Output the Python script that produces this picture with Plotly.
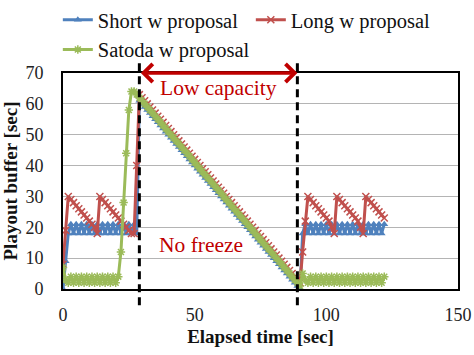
import plotly.graph_objects as go

# ---------------- data ----------------
time_sec = list(range(0, 123))

short_w = [0, 9, 18,
           21, 18, 21, 18, 21, 18, 21, 18, 21, 18, 21, 18, 21, 18, 21, 18, 21, 18, 21, 18, 21, 18, 21, 18, 21,
           18,
           61, 60, 59, 58, 57, 56, 55, 54, 53, 52, 51, 50, 49, 48, 47, 46, 45, 44, 43, 42, 41, 40,
           39, 38, 37, 36, 35, 34, 33, 32, 31, 30, 29, 28, 27, 26, 25, 24, 23, 22, 21, 20,
           19, 18, 17, 16, 15, 14, 13, 12, 11, 10, 9, 8, 7, 6, 5, 4, 3, 2, 1, 0,
           18,
           21, 18, 21, 18, 21, 18, 21, 18, 21, 18, 21, 18, 21, 18, 21, 18, 21, 18, 21, 18, 21, 18,
           21, 18, 21, 18, 21, 18, 21, 18, 21]

long_w = [8, 19, 30,
          29, 28, 27, 26, 25, 24, 23, 22, 21, 20, 18,
          30,
          29, 28, 27, 26, 25, 24, 23, 22, 21, 20, 19, 18,
          18, 40,
          63, 62, 61, 60, 59, 58, 57, 56, 55, 54, 53, 52, 51, 50, 49, 48, 47, 46, 45, 44, 43, 42,
          41, 40, 39, 38, 37, 36, 35, 34, 33, 32, 31, 30, 29, 28, 27, 26, 25, 24, 23, 22,
          21, 20, 19, 18, 17, 16, 15, 14, 13, 12, 11, 10, 9, 8, 7, 6, 5, 4, 3, 2,
          12, 22, 30,
          29, 28, 27, 26, 25, 24, 23, 22, 20, 18,
          30,
          29, 28, 27, 26, 25, 24, 23, 22, 20, 18,
          30,
          29, 28, 27, 26, 25, 24, 23]

satoda_w = [7, 3,
            2, 4, 2, 4, 2, 4, 2, 4, 2, 4, 2, 4, 2, 4, 2, 4, 2, 4, 2, 4,
            12, 28, 44, 58, 64, 64, 63,
            62, 61, 60, 59, 58, 57, 56, 55, 54, 53, 52, 51, 50, 49, 48, 47, 46, 45, 44, 43, 42,
            41, 40, 39, 38, 37, 36, 35, 34, 33, 32, 31, 30, 29, 28, 27, 26, 25, 24, 23, 22,
            21, 20, 19, 18, 17, 16, 15, 14, 13, 12, 11, 10, 9, 8, 7, 6, 5, 4, 3, 2,
            1, 5, 3,
            2, 4, 2, 4, 2, 4, 2, 4, 2, 4, 2, 4, 2, 4, 2, 4, 2, 4, 2, 4, 2, 4, 2, 4, 2, 4, 2, 4, 2, 4]

series_names = ["Short w proposal", "Long w proposal", "Satoda w proposal"]
low_capacity_start = 29
low_capacity_end = 89

x_ticks = [0, 50, 100, 150]
y_ticks = [0, 10, 20, 30, 40, 50, 60, 70]

# ---------------- styles ----------------
FONT = "Liberation Serif"
BLUE = "#4f81bd"
RED = "#c0504d"
GREEN = "#9bbb59"
ANN_RED = "#c00000"

fig = go.Figure()
fig.add_trace(go.Scatter(
    x=time_sec, y=short_w, name=series_names[0], mode="lines+markers",
    line=dict(color=BLUE, width=3),
    marker=dict(symbol="triangle-up", size=7, color=BLUE)))
fig.add_trace(go.Scatter(
    x=time_sec, y=long_w, name=series_names[1], mode="lines+markers",
    line=dict(color=RED, width=3),
    marker=dict(symbol="x-thin-open", size=7, color=RED, line=dict(color=RED, width=1.5))))
fig.add_trace(go.Scatter(
    x=time_sec, y=satoda_w, name=series_names[2], mode="lines+markers",
    line=dict(color=GREEN, width=3),
    marker=dict(symbol="asterisk-open", size=7, color=GREEN, line=dict(color=GREEN, width=1.5))))

for xv in (low_capacity_start, low_capacity_end):
    fig.add_shape(type="line", xref="x", yref="paper", x0=xv, x1=xv, y0=-0.075, y1=1.062,
                  line=dict(color="black", width=3, dash="8px,5px"), layer="above")

fig.add_annotation(x=low_capacity_end, y=70, ax=low_capacity_start, ay=70, axref="x", ayref="y",
                   xref="x", yref="y", text="", showarrow=True, arrowside="end+start",
                   arrowhead=4, arrowsize=1, arrowwidth=3.5, arrowcolor=ANN_RED)
fig.add_annotation(x=59, y=65, xref="x", yref="y", text="Low capacity", showarrow=False,
                   font=dict(family=FONT, size=21.5, color=ANN_RED))
fig.add_annotation(x=52.5, y=14.3, xref="x", yref="y", text="No freeze", showarrow=False,
                   font=dict(family=FONT, size=21.5, color=ANN_RED))

fig.update_layout(
    width=474, height=355,
    margin=dict(l=63, r=16, t=73, b=66),
    paper_bgcolor="white", plot_bgcolor="white",
    font=dict(family=FONT, size=18, color="#222222"),
    showlegend=True,
    legend=dict(orientation="h", x=0.122, y=1.0, xanchor="left", yanchor="top",
                xref="container", yref="container", entrywidth=148, entrywidthmode="pixels",
                font=dict(family=FONT, size=20.5, color="#111111"),
                bgcolor="rgba(0,0,0,0)", itemwidth=30),
    xaxis=dict(range=[0, 150], tickvals=x_ticks, showgrid=False, zeroline=False,
               showline=True, linecolor="black", linewidth=2, mirror=True,
               ticks="", ticklabelstandoff=8, automargin=False,
               title=dict(text="<b>Elapsed time [sec]</b>", font=dict(family=FONT, size=19, color="#111111"),
                          standoff=6)),
    yaxis=dict(range=[0, 70], tickvals=y_ticks, showgrid=True, gridcolor="#b4b4b4", gridwidth=1,
               zeroline=False, showline=True, linecolor="black", linewidth=2, mirror=True,
               ticks="", ticklabelstandoff=14, automargin=False,
               title=dict(text="<b>Playout buffer [sec]</b>", font=dict(family=FONT, size=19, color="#111111"),
                          standoff=4)),
)

fig.write_html("out.html", config={"displayModeBar": False},
               post_script="document.body.style.margin='0px';")
